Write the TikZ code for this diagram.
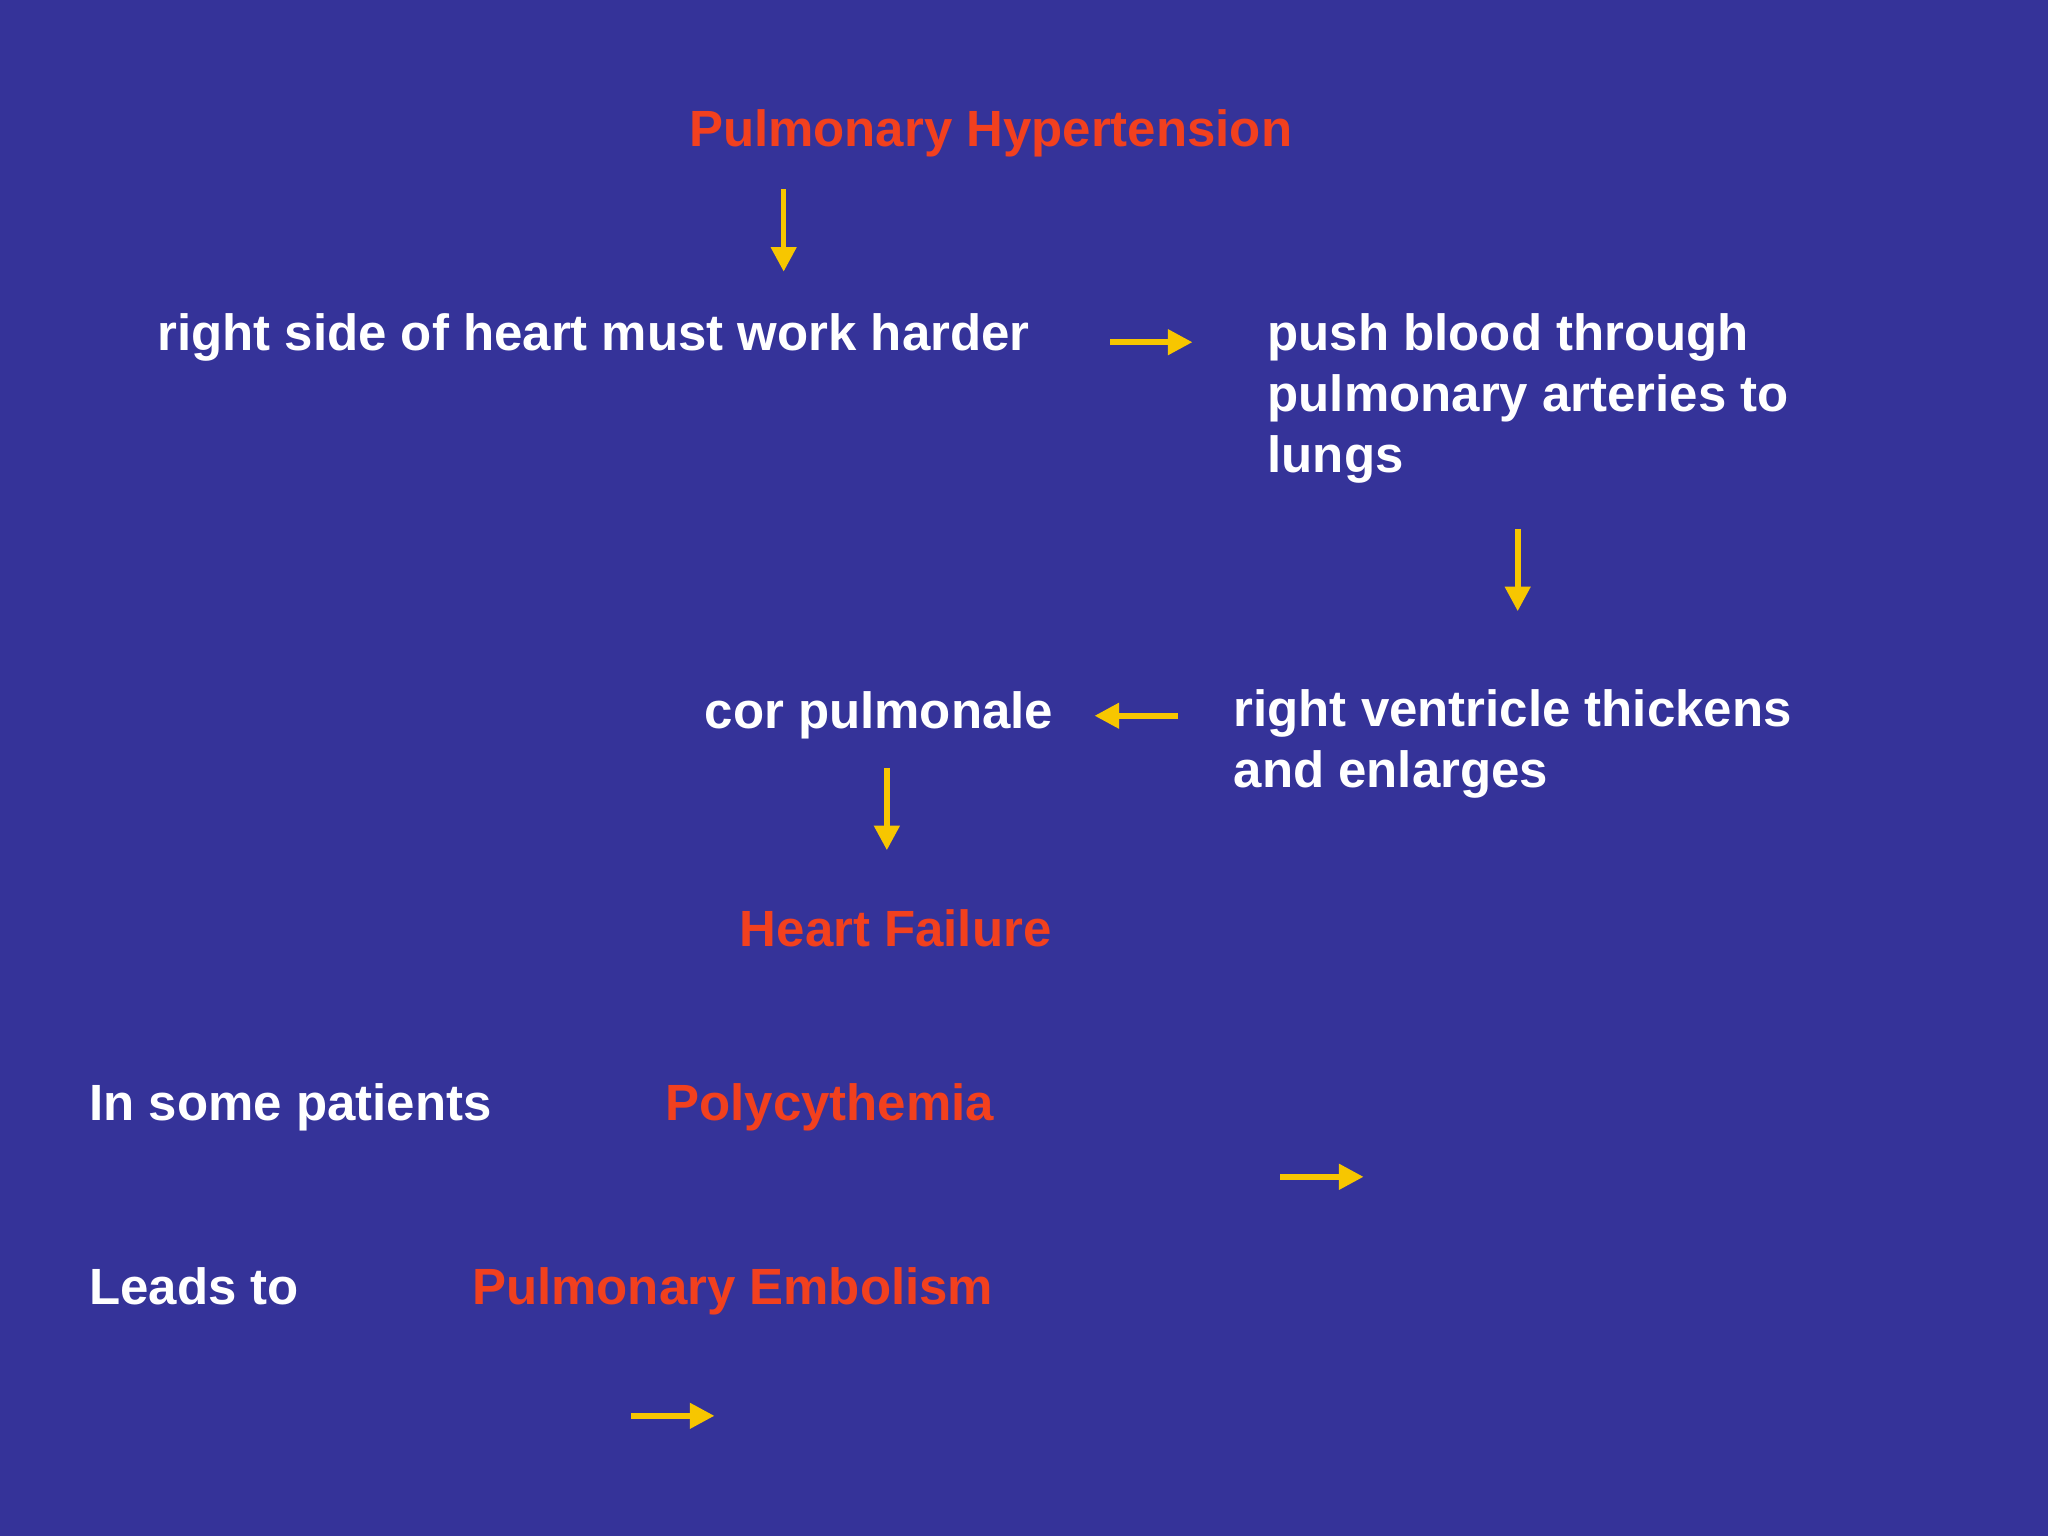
\documentclass[tikz,border=0pt]{standalone}
\usepackage{fontspec}
\setmainfont{Liberation Sans}
\usetikzlibrary{arrows.meta}
\definecolor{slidebg}{HTML}{353399}
\definecolor{hired}{HTML}{F2401E}
\definecolor{arrowyel}{HTML}{F7C600}
\begin{document}
\begin{tikzpicture}[
		x = 0.013061cm, y = -0.013061cm,
		every node/.style = {anchor=base west, inner sep=0pt, font=\fontsize{14.5}{17.4}\selectfont\bfseries},
		txt/.style = {text=white, align=left},
		hot/.style = {text=hired},
		flow/.style = {draw=arrowyel, line width=1.6pt, -{Triangle[length=7pt,width=7pt]}}
	]

	\fill[slidebg] (0,0) rectangle (1568,1176);

	\node[hot] (ph) at (527,112) {Pulmonary Hypertension};
	\node[txt] (rs) at (120,268) {right side of heart must work harder};
	\node[txt] (pb) at (970,362) {push blood through\\pulmonary arteries to\\lungs};
	\node[txt] (rv) at (944,603) {right ventricle thickens\\and enlarges};
	\node[txt] (cp) at (539,558) {cor pulmonale};
	\node[hot] (hf) at (566,725) {Heart Failure};
	\node[txt] (sp) at (68,858) {In some patients};
	\node[hot] (pc) at (509,858) {Polycythemia};
	\node[txt] (lt) at (68,999) {Leads to};
	\node[hot] (pe) at (361,999) {Pulmonary Embolism};

	\draw[flow] (600,145) -- (600,208);
	\draw[flow] (850,262) -- (913,262);
	\draw[flow] (1162,405) -- (1162,468);
	\draw[flow] (902,548) -- (838,548);
	\draw[flow] (679,588) -- (679,651);
	\draw[flow] (980,901) -- (1044,901);
	\draw[flow] (483,1084) -- (547,1084);

\end{tikzpicture}
\end{document}
